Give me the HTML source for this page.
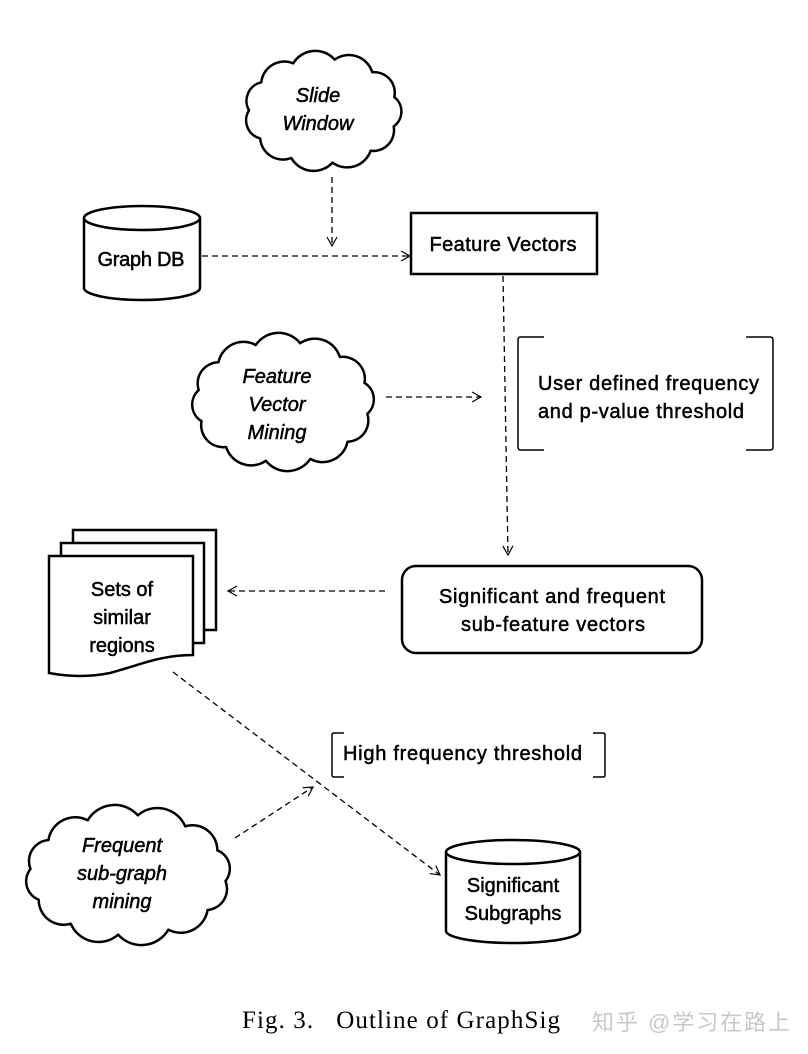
<!DOCTYPE html>
<html><head><meta charset="utf-8"><style>
html,body{margin:0;padding:0;background:#fff;}
svg{display:block;}
text{font-family:"Liberation Sans",sans-serif;font-size:20px;fill:#000;stroke:#000;stroke-width:0.5;}
.it{font-style:italic;}
</style></head><body>
<svg id="s" width="808" height="1054" viewBox="0 0 808 1054" xmlns="http://www.w3.org/2000/svg">
<defs>
<marker id="a" markerWidth="12" markerHeight="12" refX="10" refY="6" orient="auto" markerUnits="userSpaceOnUse">
<path d="M1,1 L10,6 L1,11" fill="none" stroke="#000" stroke-width="1.2"/>
</marker>
</defs>
<g id="clouds"></g>
<g fill="none" stroke="#000" stroke-width="1.3" stroke-dasharray="6,4" marker-end="url(#a)">
<line x1="332" y1="177" x2="332" y2="246"/>
<line x1="202" y1="256" x2="410" y2="256"/>
<line x1="503" y1="276" x2="508" y2="555"/>
<line x1="386" y1="397" x2="481" y2="397"/>
<line x1="385" y1="591" x2="228" y2="591"/>
<line x1="173" y1="672" x2="440" y2="875"/>
<line x1="235" y1="838" x2="313" y2="787"/>
</g>
<g fill="#fff" stroke="#000" stroke-width="2.5">
<path d="M84,218 L84,288 A58,12 0 0 0 200,288 L200,218"/>
<ellipse cx="142" cy="218" rx="58" ry="12"/>
</g>
<text x="141" y="266" text-anchor="middle" textLength="87">Graph DB</text>
<rect x="411" y="213" width="186" height="61" fill="#fff" stroke="#000" stroke-width="2.5"/>
<text x="503" y="251" text-anchor="middle" textLength="147">Feature Vectors</text>
<g fill="none" stroke="#000" stroke-width="1.5">
<path d="M544,337 L520,337 Q518,337 518,340 L518,447 Q518,450 521,450 L544,450"/>
<path d="M746,337 L770,337 Q773,337 773,340 L773,447 Q773,450 770,450 L746,450"/>
<path d="M344,733 L334,733 Q332,733 332,735 L332,775 Q332,777 334,777 L344,777"/>
<path d="M593,733 L603,733 Q605,733 605,735 L605,775 Q605,777 603,777 L593,777"/>
</g>
<text x="538" y="390" textLength="221">User defined frequency</text>
<text x="538" y="418" textLength="206">and p-value threshold</text>
<text x="343" y="760" textLength="239">High frequency threshold</text>
<rect x="402" y="566" width="300" height="87" rx="14" fill="#fff" stroke="#000" stroke-width="2.5"/>
<text x="552" y="603" text-anchor="middle" textLength="226">Significant and frequent</text>
<text x="553" y="631" text-anchor="middle" textLength="184">sub-feature vectors</text>
<g fill="#fff" stroke="#000" stroke-width="2.5">
<rect x="73" y="530" width="143" height="100"/>
<rect x="61" y="543" width="143" height="100"/>
<path d="M49,556 L193,556 L193,655 C160,655 140,665 110,673 C85,678 65,676 49,673 Z"/>
</g>
<text x="122" y="596" text-anchor="middle">Sets of</text>
<text x="122" y="624" text-anchor="middle">similar</text>
<text x="122" y="652" text-anchor="middle">regions</text>
<g fill="#fff" stroke="#000" stroke-width="2.5">
<path d="M446,852 L446,931 A67,12 0 0 0 580,931 L580,852"/>
<ellipse cx="513" cy="852" rx="67" ry="12"/>
</g>
<text x="513" y="892" text-anchor="middle">Significant</text>
<text x="513" y="920" text-anchor="middle">Subgraphs</text>
<text class="it" x="318" y="102" text-anchor="middle">Slide</text>
<text class="it" x="318" y="130" text-anchor="middle">Window</text>
<text class="it" x="277" y="383" text-anchor="middle">Feature</text>
<text class="it" x="277" y="411" text-anchor="middle">Vector</text>
<text class="it" x="277" y="439" text-anchor="middle">Mining</text>
<text class="it" x="122" y="852" text-anchor="middle">Frequent</text>
<text class="it" x="122" y="880" text-anchor="middle">sub-graph</text>
<text class="it" x="122" y="908" text-anchor="middle">mining</text>
<text x="242" y="1028" style="font-family:'Liberation Serif',serif;font-size:25px;stroke:none" textLength="318" xml:space="preserve">Fig. 3.   Outline of GraphSig</text>
<text x="592" y="1030" style="font-family:'Liberation Sans','Noto Sans CJK SC',sans-serif;font-size:22px;fill:#c8c8c8;stroke:none" textLength="198">知乎 @学习在路上</text>
</svg>
<script>
(function(){
var ns="http://www.w3.org/2000/svg",g=document.getElementById("clouds");
function cloud(cx,cy,rx,ry,n,off){
  var pts=[];
  for(var i=0;i<n;i++){var t=off+i*2*Math.PI/n;pts.push([cx+rx*Math.cos(t),cy+ry*Math.sin(t)]);}
  var d="M"+pts[0][0].toFixed(1)+","+pts[0][1].toFixed(1);
  for(var i=1;i<=n;i++){var p=pts[i%n],q=pts[i-1];var ch=Math.hypot(p[0]-q[0],p[1]-q[1]);var r=ch*0.62;
    d+=" A"+r.toFixed(1)+","+r.toFixed(1)+" 0 0 1 "+p[0].toFixed(1)+","+p[1].toFixed(1);}
  d+="Z";
  var e=document.createElementNS(ns,"path");e.setAttribute("d",d);e.setAttribute("fill","#fff");
  e.setAttribute("stroke","#000");e.setAttribute("stroke-width","2.5");e.setAttribute("stroke-linejoin","round");g.appendChild(e);
}
cloud(323,111,74,52,11,0.3);
cloud(283,402,86,60,12,0.2);
cloud(128,875,98,60,12,0.1);
})();
</script>
</body></html>
